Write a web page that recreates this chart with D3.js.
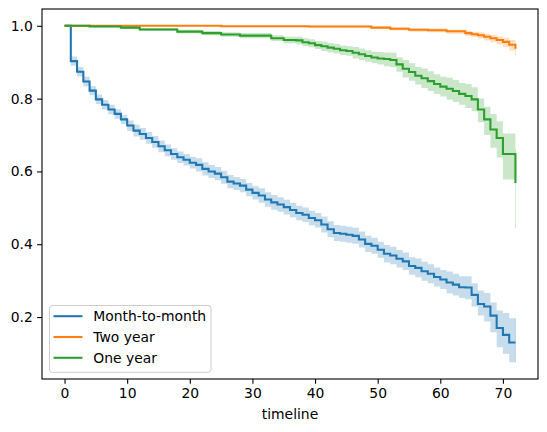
<!DOCTYPE html>
<html><head><meta charset="utf-8">
<script src="https://cdn.jsdelivr.net/npm/d3@7"></script>
<style>
body{margin:0;background:#fff}
svg{display:block}
text{font-family:"DejaVu Sans",sans-serif;fill:#000}
</style>
</head><body>
<svg id="chart" width="547" height="432"></svg>
<script>
const timeline = [0,1,2,3,4,5,6,7,8,9,10,11,12,13,14,15,16,17,18,19,20,21,22,23,24,25,26,27,28,29,30,31,32,33,34,35,36,37,38,39,40,41,42,43,44,45,46,47,48,49,50,51,52,53,54,55,56,57,58,59,60,61,62,63,64,65,66,67,68,69,70,71,72];

const seriesNames = ["Month-to-month","Two year","One year"];

const mtmSurv = [1.0,0.903,0.874,0.847,0.822,0.798,0.783,0.770,0.758,0.743,
 0.726,0.712,0.703,0.692,0.681,0.669,0.658,0.648,0.639,0.632,
 0.624,0.618,0.607,0.600,0.594,0.584,0.572,0.567,0.561,0.550,
 0.541,0.534,0.523,0.515,0.509,0.502,0.494,0.486,0.481,0.472,
 0.466,0.454,0.441,0.431,0.429,0.426,0.423,0.413,0.401,0.396,
 0.385,0.374,0.369,0.360,0.353,0.340,0.335,0.326,0.319,0.310,
 0.303,0.295,0.289,0.282,0.281,0.261,0.236,0.229,0.204,0.170,
 0.151,0.130,0.130];
const mtmLow = [1.0,0.890,0.861,0.834,0.809,0.785,0.770,0.757,0.745,0.730,
 0.712,0.696,0.687,0.676,0.665,0.653,0.642,0.632,0.623,0.616,
 0.608,0.600,0.589,0.582,0.576,0.566,0.554,0.549,0.543,0.532,
 0.523,0.514,0.503,0.495,0.489,0.482,0.474,0.466,0.461,0.452,
 0.446,0.432,0.419,0.409,0.407,0.404,0.401,0.391,0.379,0.374,
 0.363,0.350,0.345,0.336,0.329,0.316,0.309,0.300,0.293,0.284,
 0.277,0.265,0.259,0.252,0.249,0.229,0.204,0.188,0.158,0.117,
 0.099,0.076,0.076];
const mtmHigh = [1.0,0.916,0.887,0.860,0.835,0.811,0.796,0.783,0.771,0.756,
 0.740,0.728,0.719,0.708,0.697,0.685,0.674,0.664,0.655,0.648,
 0.640,0.636,0.625,0.618,0.612,0.602,0.590,0.585,0.579,0.568,
 0.559,0.554,0.543,0.535,0.529,0.522,0.514,0.506,0.501,0.492,
 0.486,0.476,0.463,0.453,0.451,0.448,0.445,0.435,0.423,0.418,
 0.407,0.398,0.393,0.384,0.377,0.364,0.361,0.352,0.345,0.336,
 0.329,0.325,0.319,0.312,0.312,0.293,0.273,0.266,0.240,0.218,
 0.211,0.197,0.197];

const twoSurv = [1,1,1,1,1,1,1,1,1,1,
 1,1,1,1,1,1,1,1,1,1,
 1,1,1,1,1,0.999,0.999,0.999,0.999,0.999,
 0.999,0.999,0.999,0.999,0.999,0.999,0.999,0.999,0.999,0.998,
 0.998,0.998,0.998,0.998,0.998,0.998,0.998,0.998,0.998,0.995,
 0.995,0.995,0.992,0.992,0.992,0.989,0.989,0.989,0.988,0.988,
 0.988,0.985,0.985,0.985,0.980,0.977,0.974,0.970,0.966,0.961,
 0.956,0.948,0.937];
const twoLow = [1,1,1,1,1,1,1,1,1,1,
 1,1,1,1,1,1,1,1,1,1,
 1,1,1,1,1,0.996,0.996,0.996,0.996,0.996,
 0.996,0.996,0.996,0.996,0.996,0.996,0.996,0.996,0.996,0.995,
 0.995,0.995,0.995,0.995,0.995,0.995,0.995,0.995,0.995,0.991,
 0.991,0.991,0.987,0.987,0.987,0.984,0.984,0.984,0.982,0.982,
 0.982,0.978,0.978,0.978,0.972,0.969,0.965,0.960,0.955,0.949,
 0.942,0.932,0.917];
const twoHigh = [1,1,1,1,1,1,1,1,1,1,
 1,1,1,1,1,1,1,1,1,1,
 1,1,1,1,1,1,1,1,1,1,
 1,1,1,1,1,1,1,1,1,1,
 1,1,1,1,1,1,1,1,1,0.998,
 0.998,0.998,0.996,0.996,0.996,0.993,0.993,0.993,0.993,0.993,
 0.993,0.990,0.990,0.990,0.986,0.984,0.982,0.978,0.975,0.971,
 0.967,0.961,0.952];

const oneSurv = [1,1,1,1,0.998,0.998,0.998,0.998,0.998,0.995,
 0.995,0.995,0.990,0.990,0.990,0.990,0.990,0.990,0.984,0.984,
 0.984,0.984,0.980,0.980,0.980,0.976,0.976,0.976,0.973,0.973,
 0.973,0.973,0.973,0.966,0.966,0.961,0.961,0.960,0.955,0.952,
 0.947,0.944,0.940,0.937,0.933,0.931,0.926,0.922,0.917,0.913,
 0.910,0.909,0.906,0.894,0.882,0.873,0.863,0.856,0.848,0.840,
 0.833,0.827,0.821,0.813,0.807,0.798,0.770,0.743,0.715,0.692,
 0.648,0.648,0.568];
const oneLow = [1,1,1,1,0.996,0.996,0.996,0.996,0.996,0.992,
 0.992,0.992,0.986,0.986,0.986,0.986,0.986,0.986,0.979,0.979,
 0.979,0.979,0.974,0.974,0.974,0.970,0.970,0.970,0.966,0.966,
 0.966,0.966,0.966,0.958,0.958,0.952,0.952,0.949,0.944,0.941,
 0.936,0.931,0.927,0.924,0.920,0.918,0.910,0.906,0.901,0.897,
 0.894,0.889,0.886,0.874,0.858,0.849,0.839,0.829,0.821,0.813,
 0.806,0.797,0.791,0.783,0.774,0.765,0.735,0.700,0.665,0.638,
 0.578,0.578,0.445];
const oneHigh = [1,1,1,1,1,1,1,1,1,0.998,
 0.998,0.998,0.994,0.994,0.994,0.994,0.994,0.994,0.989,0.989,
 0.989,0.989,0.986,0.986,0.986,0.982,0.982,0.982,0.980,0.980,
 0.980,0.980,0.980,0.974,0.974,0.970,0.970,0.970,0.966,0.963,
 0.958,0.957,0.953,0.950,0.946,0.944,0.942,0.938,0.933,0.929,
 0.928,0.927,0.926,0.914,0.906,0.897,0.887,0.883,0.875,0.867,
 0.860,0.857,0.851,0.843,0.840,0.831,0.800,0.778,0.758,0.738,
 0.704,0.704,0.660];

const xTicks = [0,10,20,30,40,50,60,70];
const yTicks = [0.2,0.4,0.6,0.8,1.0];
const xLabel = "timeline";
const colors = ["#1f77b4","#ff7f0e","#2ca02c"];

const series = [
  {name: seriesNames[0], surv: mtmSurv, low: mtmLow, high: mtmHigh, color: colors[0]},
  {name: seriesNames[1], surv: twoSurv, low: twoLow, high: twoHigh, color: colors[1]},
  {name: seriesNames[2], surv: oneSurv, low: oneLow, high: oneHigh, color: colors[2]}
];

const svg = d3.select("#chart");
const L = 42, R = 538, T = 9, B = 379;

const xExt = d3.extent(timeline);
const xPad = (xExt[1]-xExt[0])*0.05;
const allY = series.flatMap(s => s.low.concat(s.high, s.surv));
const yExt = d3.extent(allY);
const yPad = (yExt[1]-yExt[0])*0.05;

const x = d3.scaleLinear().domain([xExt[0]-xPad, xExt[1]+xPad]).range([L, R]);
const y = d3.scaleLinear().domain([yExt[0]-yPad, yExt[1]+yPad]).range([B, T]);

const plot = svg.append("g");

series.forEach(s => {
  const pts = timeline.map((t,i) => ({t, v: s.surv[i], lo: s.low[i], hi: s.high[i]}));
  plot.append("path")
    .datum(pts)
    .attr("fill","none")
    .attr("stroke", s.color)
    .attr("stroke-width", 2.08)
    .attr("d", d3.line().curve(d3.curveStepAfter).x(d => x(d.t)).y(d => y(d.v)));
  plot.append("path")
    .datum(pts)
    .attr("fill", s.color)
    .attr("fill-opacity", 0.25)
    .attr("stroke","none")
    .attr("d", d3.area().curve(d3.curveStepAfter).x(d => x(d.t)).y0(d => y(d.lo)).y1(d => y(d.hi)));
  const last = pts[pts.length-1];
  plot.append("line")
    .attr("x1", x(last.t)).attr("x2", x(last.t))
    .attr("y1", y(last.lo)).attr("y2", y(last.hi))
    .attr("stroke", s.color).attr("stroke-opacity", 0.2).attr("stroke-width", 1);
});

// axes
const fs = 13.9;
const xAxis = d3.axisBottom(x).tickValues(xTicks).tickFormat(d3.format("d")).tickSize(4.86).tickPadding(4.3);
const gx = svg.append("g").attr("transform", `translate(0,${B})`).call(xAxis);
const yAxis = d3.axisLeft(y).tickValues(yTicks).tickFormat(d3.format(".1f")).tickSize(4.86).tickPadding(4.3);
const gy = svg.append("g").attr("transform", `translate(${L},0)`).call(yAxis);
[gx, gy].forEach(g => {
  g.select(".domain").remove();
  g.selectAll(".tick line").attr("stroke","#000").attr("stroke-width",1.1);
  g.selectAll(".tick text").attr("font-size", fs).attr("font-family","DejaVu Sans, sans-serif").attr("fill","#000");
});

svg.append("rect")
  .attr("x", L).attr("y", T).attr("width", R-L).attr("height", B-T)
  .attr("fill","none").attr("stroke","#000").attr("stroke-width",1.1);

svg.append("text")
  .attr("x", (L+R)/2).attr("y", 419)
  .attr("text-anchor","middle").attr("font-size", fs)
  .text(xLabel);

// legend
const lg = svg.append("g");
lg.append("rect")
  .attr("x", 49.5).attr("y", 305.5).attr("width", 161.5).attr("height", 66.8)
  .attr("rx", 2.8).attr("ry", 2.8)
  .attr("fill","#fff").attr("fill-opacity",0.8)
  .attr("stroke","#cccccc").attr("stroke-width",1);
series.forEach((s,i) => {
  const yy = 316.2 + i*20.8;
  lg.append("line").attr("x1",53.5).attr("x2",82.5).attr("y1",yy).attr("y2",yy)
    .attr("stroke", s.color).attr("stroke-width",2.08);
  lg.append("text").attr("x",93.3).attr("y",yy+5.1).attr("font-size",fs).text(s.name);
});
</script>
</body></html>
